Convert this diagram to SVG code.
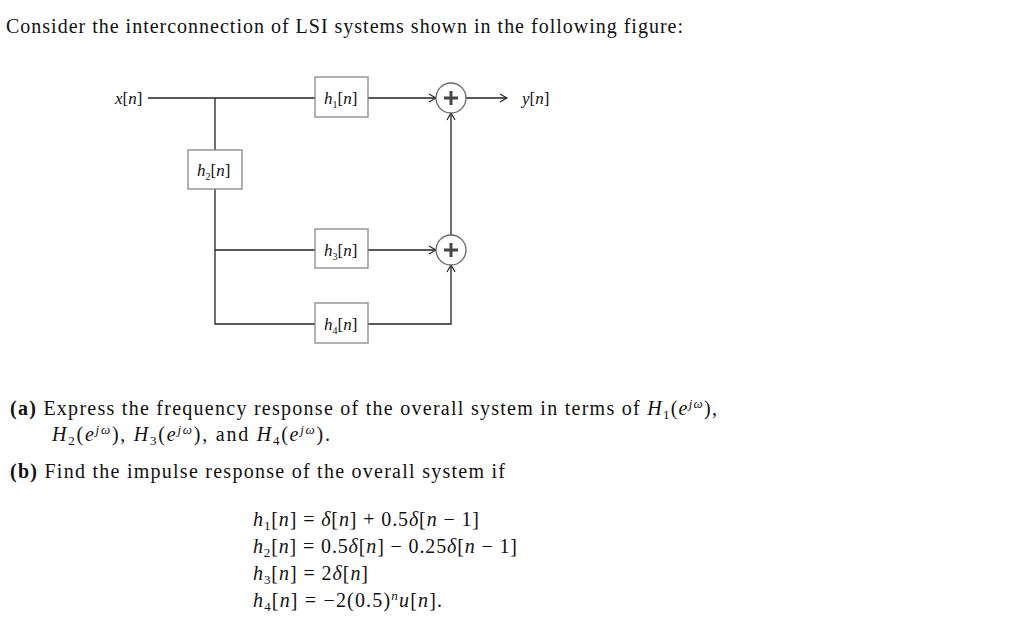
<svg xmlns="http://www.w3.org/2000/svg" width="1024" height="631" viewBox="0 0 1024 631">
<style>
text{font-family:"Liberation Serif","DejaVu Serif",serif;fill:#111}
.t{font-size:20px}
.l{font-size:17px}
.i{font-style:italic}
.b{font-weight:bold}
.box{fill:#fff;stroke:#888;stroke-width:1.3}
.w{fill:none;stroke:#222;stroke-width:1.3}
.s{fill:#fff;stroke:#666;stroke-width:1.3}
</style>
<defs><marker id="a" markerWidth="10" markerHeight="10" refX="9" refY="5" orient="auto" markerUnits="userSpaceOnUse"><path d="M2,1 L9,5 L2,9" fill="none" stroke="#222" stroke-width="1.2"/></marker></defs>
<rect width="1024" height="631" fill="#fff"/>
<text x="6" y="33" class="t" textLength="677" lengthAdjust="spacing">Consider the interconnection of LSI systems shown in the following figure:</text>
<g id="connectors">
<path class="w" d="M148,98 H315"/>
<path class="w" d="M368,98 H436" marker-end="url(#a)"/>
<path class="w" d="M466,98 H507" marker-end="url(#a)"/>
<path class="w" d="M215,98 V150 M215,189 V324 H315"/>
<path class="w" d="M215,250 H315"/>
<path class="w" d="M368,250 H436" marker-end="url(#a)"/>
<path class="w" d="M368,324 H451 V265" marker-end="url(#a)"/>
<path class="w" d="M451,235 V113" marker-end="url(#a)"/>
</g>
<g id="x"><text x="115" y="104" class="l"><tspan class="i">x</tspan>[<tspan class="i">n</tspan>]</text></g>
<g id="y"><text x="522" y="104" class="l"><tspan class="i">y</tspan>[<tspan class="i">n</tspan>]</text></g>
<g id="h1"><rect class="box" x="315" y="77" width="53" height="40"/><text x="324" y="104" class="l"><tspan class="i">h</tspan><tspan font-size="10" dy="4">1</tspan><tspan dy="-4">[</tspan><tspan class="i">n</tspan>]</text></g>
<g id="h2"><rect class="box" x="188" y="150" width="54" height="39"/><text x="197" y="176" class="l"><tspan class="i">h</tspan><tspan font-size="10" dy="4">2</tspan><tspan dy="-4">[</tspan><tspan class="i">n</tspan>]</text></g>
<g id="h3"><rect class="box" x="315" y="229" width="53" height="39"/><text x="324" y="256" class="l"><tspan class="i">h</tspan><tspan font-size="10" dy="4">3</tspan><tspan dy="-4">[</tspan><tspan class="i">n</tspan>]</text></g>
<g id="h4"><rect class="box" x="315" y="303" width="53" height="40"/><text x="324" y="330" class="l"><tspan class="i">h</tspan><tspan font-size="10" dy="4">4</tspan><tspan dy="-4">[</tspan><tspan class="i">n</tspan>]</text></g>
<g id="sum1"><circle class="s" cx="451" cy="98" r="15"/><path d="M444,98 H458 M451,91 V105" stroke="#444" stroke-width="3"/></g>
<g id="sum2"><circle class="s" cx="451" cy="250" r="15"/><path d="M444,250 H458 M451,243 V257" stroke="#444" stroke-width="3"/></g>
<text x="10" y="415" class="t" textLength="707" lengthAdjust="spacing"><tspan class="b">(a)</tspan> Express the frequency response of the overall system in terms of <tspan class="i">H</tspan><tspan font-size="13" dy="4">1</tspan><tspan dy="-4">(</tspan><tspan class="i">e</tspan><tspan class="i" font-size="13" dy="-7">jω</tspan><tspan dy="7">),</tspan></text>
<text x="52" y="441" class="t" textLength="278" lengthAdjust="spacing"><tspan class="i">H</tspan><tspan font-size="13" dy="4">2</tspan><tspan dy="-4">(</tspan><tspan class="i">e</tspan><tspan class="i" font-size="13" dy="-7">jω</tspan><tspan dy="7">), </tspan><tspan class="i">H</tspan><tspan font-size="13" dy="4">3</tspan><tspan dy="-4">(</tspan><tspan class="i">e</tspan><tspan class="i" font-size="13" dy="-7">jω</tspan><tspan dy="7">), and </tspan><tspan class="i">H</tspan><tspan font-size="13" dy="4">4</tspan><tspan dy="-4">(</tspan><tspan class="i">e</tspan><tspan class="i" font-size="13" dy="-7">jω</tspan><tspan dy="7">).</tspan></text>
<text x="10" y="478" class="t" textLength="495" lengthAdjust="spacing"><tspan class="b">(b)</tspan> Find the impulse response of the overall system if</text>
<text x="253" y="526" class="t" textLength="226" lengthAdjust="spacing"><tspan class="i">h</tspan><tspan font-size="13" dy="4">1</tspan><tspan dy="-4">[</tspan><tspan class="i">n</tspan>] = <tspan class="i">δ</tspan>[<tspan class="i">n</tspan>] + 0.5<tspan class="i">δ</tspan>[<tspan class="i">n</tspan> − 1]</text>
<text x="253" y="553" class="t" textLength="264" lengthAdjust="spacing"><tspan class="i">h</tspan><tspan font-size="13" dy="4">2</tspan><tspan dy="-4">[</tspan><tspan class="i">n</tspan>] = 0.5<tspan class="i">δ</tspan>[<tspan class="i">n</tspan>] − 0.25<tspan class="i">δ</tspan>[<tspan class="i">n</tspan> − 1]</text>
<text x="253" y="580" class="t" textLength="115" lengthAdjust="spacing"><tspan class="i">h</tspan><tspan font-size="13" dy="4">3</tspan><tspan dy="-4">[</tspan><tspan class="i">n</tspan>] = 2<tspan class="i">δ</tspan>[<tspan class="i">n</tspan>]</text>
<text x="253" y="607" class="t" textLength="189" lengthAdjust="spacing"><tspan class="i">h</tspan><tspan font-size="13" dy="4">4</tspan><tspan dy="-4">[</tspan><tspan class="i">n</tspan>] = −2(0.5)<tspan class="i" font-size="13" dy="-7">n</tspan><tspan class="i" dy="7">u</tspan>[<tspan class="i">n</tspan>].</text>
</svg>
